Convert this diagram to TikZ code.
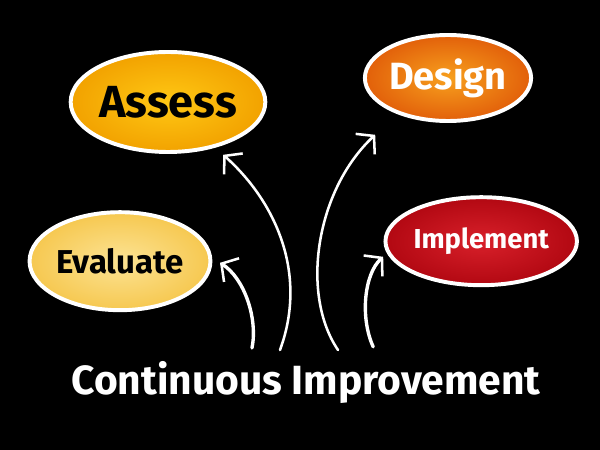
\documentclass[tikz,border=0pt]{standalone}
\usepackage{fontspec}
\setmainfont{Fira Sans}
\usetikzlibrary{shapes.geometric, arrows.meta}
\definecolor{assessIn}{HTML}{FFC814}
\definecolor{assessOut}{HTML}{F2A200}
\definecolor{designIn}{HTML}{F7A01E}
\definecolor{designOut}{HTML}{E2600A}
\definecolor{implIn}{HTML}{D8202A}
\definecolor{implOut}{HTML}{B20812}
\definecolor{evalIn}{HTML}{FCE394}
\definecolor{evalOut}{HTML}{F6C850}
\tikzset{
	bubble/.style={draw=white, ellipse, line width=2.8pt, inner sep=0pt, font=\bfseries},
	title/.style={text=white, font=\bfseries\fontsize{29}{30}\selectfont, inner sep=0pt},
}

\begin{document}
\begin{tikzpicture}
		\fill[black] (0,0) rectangle (15,11.25);
		\useasboundingbox (0,0) rectangle (15,11.25);
		
		\node (assess) [bubble, minimum width=4.55cm, minimum height=2.5cm, inner color=assessIn, outer color=assessOut, text=black, font=\bfseries\fontsize{32}{33}\selectfont] at (4.2,8.7) {Assess};
		\node (design) [bubble, minimum width=3.9cm, minimum height=2.15cm, inner color=designIn, outer color=designOut, text=white, font=\bfseries\fontsize{27}{28}\selectfont] at (11.2,9.3) {Design};
		\node (impl) [bubble, minimum width=3.8cm, minimum height=2.2cm, inner color=implIn, outer color=implOut, text=white, font=\bfseries\fontsize{19.5}{20}\selectfont] at (12.03,5.22) {Implement};
		\node (eval) [bubble, minimum width=3.9cm, minimum height=2.45cm, inner color=evalIn, outer color=evalOut, text=black, font=\bfseries\fontsize{23.5}{24}\selectfont] at (3.0,4.72) {Evaluate};
		
		\node (ci) [title] at (7.65,1.7) {Continuous Improvement};
		
		% start and end points of the arrows
		\coordinate (a1) at (7.0,2.5);
		\coordinate (a2) at (5.58,7.38);
		\coordinate (d1) at (8.45,2.5);
		\coordinate (d2) at (9.38,7.88);
		\coordinate (e1) at (6.3,2.55);
		\coordinate (e2) at (5.5,4.68);
		\coordinate (i1) at (9.33,2.58);
		\coordinate (i2) at (9.58,4.83);
		
		\begin{scope}[white, line cap=round, -{Straight Barb[length=3mm, width=7mm, line width=1.8pt]}]
			\draw[line width=1.8pt] (a1) .. controls (7.7,4.4) and (6.9,6.2) .. (a2);
			\draw[line width=1.8pt] (d1) .. controls (7.5,3.9) and (7.9,6.5) .. (d2);
			\draw[line width=2.4pt] (e1) .. controls (6.45,3.3) and (6.1,4.3) .. (e2);
			\draw[line width=2.4pt] (i1) .. controls (9.0,3.3) and (9.1,4.4) .. (i2);
		\end{scope}
	\end{tikzpicture}
\end{document}
